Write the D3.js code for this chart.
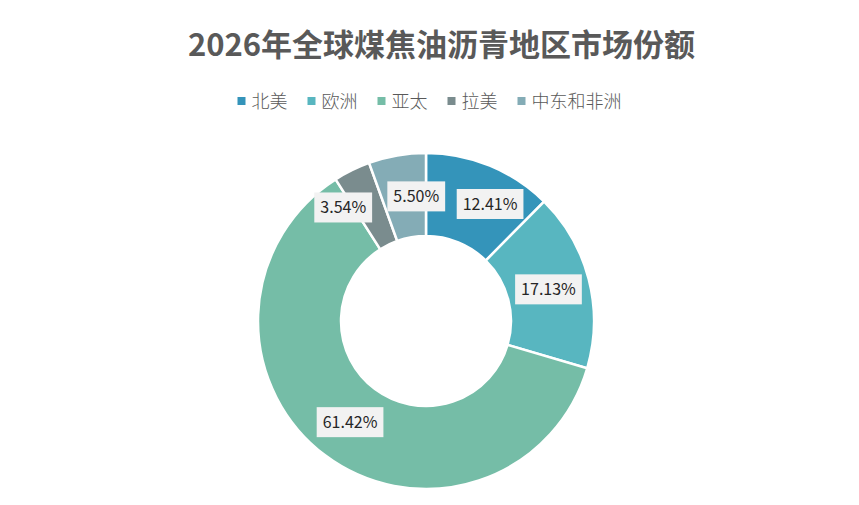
<!DOCTYPE html>
<html>
<head>
<meta charset="utf-8">
<script src="https://cdn.jsdelivr.net/npm/d3@7"></script>
<style>
  body { margin: 0; background: #fff; }
  text { font-family: "Noto Sans CJK SC", "Liberation Sans", sans-serif; }
</style>
</head>
<body>
<div class="chart"></div>
<script>
//data
var regions = ['北美', '欧洲', '亚太', '拉美', '中东和非洲'];
var shares = [12.41, 17.13, 61.42, 3.54, 5.50];
var colors = ['#3494BA', '#58B6C0', '#75BDA7', '#7A8C8E', '#84ACB6'];
var chartTitle = '2026年全球煤焦油沥青地区市场份额';

//label nudges (Excel pushes small top labels apart)
var labelShift = [16, 0, 0, -27, 12];

//canvas
var size = {'x' : 859, 'y' : 505};
var svg = d3.select('.chart')
  .append('svg')
    .attr('width', size.x)
    .attr('height', size.y);

//title
svg.append('text')
  .attr('x', 441.5)
  .attr('y', 56)
  .attr('text-anchor', 'middle')
  .attr('font-size', 31)
  .attr('font-weight', 'bold')
  .attr('fill', '#595959')
  .text(chartTitle);

//legend
var legend = svg.append('g');
var lx = 0;
regions.forEach(function(name, i){
  var item = legend.append('g').attr('transform', 'translate(' + lx + ',0)');
  item.append('rect')
    .attr('x', 0).attr('y', -4)
    .attr('width', 8).attr('height', 8)
    .attr('fill', colors[i]);
  var t = item.append('text')
    .attr('x', 14)
    .attr('y', 6.5)
    .attr('font-size', 18)
    .attr('font-weight', 300)
    .attr('fill', '#595959')
    .text(name);
  lx += 14 + t.node().getComputedTextLength() + 20;
});
var legendW = lx - 20;
legend.attr('transform', 'translate(' + (429.5 - legendW / 2) + ',101)');

//doughnut
var cx = 426, cy = 321, outerR = 168, innerR = 85;
var pie = d3.pie().sort(null).value(function(d){ return d.v; });
var arc = d3.arc().innerRadius(innerR).outerRadius(outerR);
var labelArc = d3.arc().innerRadius((innerR + outerR) / 2).outerRadius((innerR + outerR) / 2);

var slices = pie(regions.map(function(r, i){ return {name: r, v: shares[i], i: i}; }));

var g = svg.append('g').attr('transform', 'translate(' + cx + ',' + cy + ')');

g.selectAll('path')
  .data(slices)
  .enter()
  .append('path')
    .attr('d', arc)
    .attr('fill', function(d){ return colors[d.data.i]; })
    .attr('stroke', '#fff')
    .attr('stroke-width', 2.5);

//labels
var labels = g.selectAll('.lbl')
  .data(slices)
  .enter()
  .append('g')
    .attr('class', 'lbl')
    .attr('transform', function(d){
      var c = labelArc.centroid(d);
      return 'translate(' + (c[0] + labelShift[d.data.i]) + ',' + c[1] + ')';
    });

labels.each(function(d){
  var lg = d3.select(this);
  var t = lg.append('text')
    .attr('text-anchor', 'middle')
    .attr('y', 6)
    .attr('font-family', '"Liberation Sans", sans-serif')
    .attr('font-size', 16)
    .attr('fill', '#262626')
    .text(d.data.v.toFixed(2) + '%');
  var w = t.node().getComputedTextLength() + 12;
  lg.insert('rect', 'text')
    .attr('x', -w / 2)
    .attr('y', -15)
    .attr('width', w)
    .attr('height', 30)
    .attr('fill', '#F2F2F2');
});
</script>
</body>
</html>
